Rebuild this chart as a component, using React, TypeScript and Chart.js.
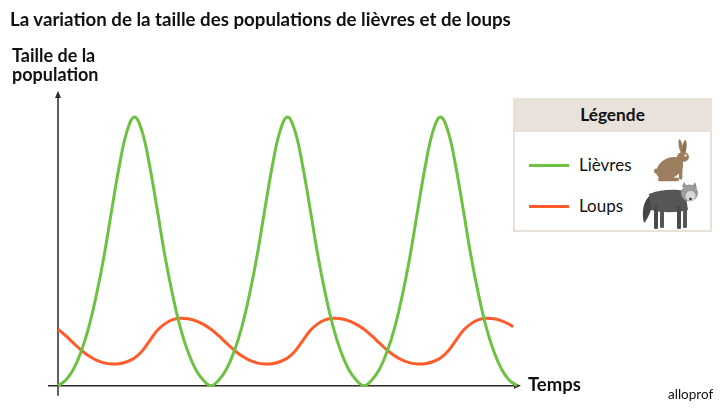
import React, { useEffect, useRef } from "react";
import { Chart, registerables } from "chart.js";

Chart.register(...registerables);

// ---------- Data ----------
const chartTitle = "La variation de la taille des populations de lièvres et de loups";
const yAxisTitle = ["Taille de la", "population"];
const xAxisTitle = "Temps";
const legendTitle = "Légende";
const seriesLabels = ["Lièvres", "Loups"];
const brandLabel = "alloprof";

const timeSteps: number[] = [
  0, 1, 2, 3, 4, 5, 6, 7, 8, 9, 10, 11, 12, 13, 14, 15, 16, 17, 18, 19,
  20, 21, 22, 23, 24, 25, 26, 27, 28, 29, 30, 31, 32, 33, 34, 35, 36, 37, 38, 39,
  40, 41, 42, 43, 44, 45, 46, 47, 48, 49, 50, 51, 52, 53, 54, 55, 56, 57, 58, 59,
  60,
];

const hareValues: number[] = [
  0, 2, 6, 12.5, 21.5, 33.5, 48, 65, 81.5, 94.5, 100, 94.5, 81.5, 65, 48, 33.5, 21.5, 12.5, 6, 2,
  0, 2, 6, 12.5, 21.5, 33.5, 48, 65, 81.5, 94.5, 100, 94.5, 81.5, 65, 48, 33.5, 21.5, 12.5, 6, 2,
  0, 2, 6, 12.5, 21.5, 33.5, 48, 65, 81.5, 94.5, 100, 94.5, 81.5, 65, 48, 33.5, 21.5, 12.5, 6, 2,
  0,
];

const wolfTimes: number[] = [
  0, 1, 2, 3, 4, 5, 6, 7, 8, 9, 10, 11, 12, 13, 14, 15, 16, 17, 18, 19,
  20, 21, 22, 23, 24, 25, 26, 27, 28, 29, 30, 31, 32, 33, 34, 35, 36, 37, 38, 39,
  40, 41, 42, 43, 44, 45, 46, 47, 48, 49, 50, 51, 52, 53, 54, 55, 56, 57, 58, 59,
  59.5,
];

const wolfValues: number[] = [
  21.0, 18.6, 15.9, 13.3, 11.1, 9.5, 8.5, 8.1, 8.2, 8.9, 10.3, 12.9, 16.8, 20.6, 23.1, 24.6, 25.1, 24.9, 24.1, 22.8,
  21.0, 18.6, 15.9, 13.3, 11.1, 9.5, 8.5, 8.1, 8.2, 8.9, 10.3, 12.9, 16.8, 20.6, 23.1, 24.6, 25.1, 24.9, 24.1, 22.8,
  21.0, 18.6, 15.9, 13.3, 11.1, 9.5, 8.5, 8.1, 8.2, 8.9, 10.3, 12.9, 16.8, 20.6, 23.1, 24.6, 25.1, 24.9, 24.1, 22.8,
  21.9,
];

const X_MIN = 0;
const X_MAX = 60;
const Y_MIN = 0;
const Y_MAX = 110;

// ---------- Style ----------
const GREEN = "#6EC243";
const ORANGE = "#FF5B2B";
const AXIS = "#2a2a2a";
const TEXT = "#111111";
const BEIGE = "#E8E2DA";
const FONT = "Lato, 'Open Sans', sans-serif";

const arrowAxes = {
  id: "arrowAxes",
  beforeDatasetsDraw(chart: any) {
    const { ctx, chartArea: a, scales } = chart;
    const x0 = scales.x.getPixelForValue(X_MIN);
    const y0 = scales.y.getPixelForValue(Y_MIN);
    ctx.save();
    ctx.strokeStyle = AXIS;
    ctx.fillStyle = AXIS;
    ctx.lineWidth = 1.5;
    // y axis
    ctx.beginPath();
    ctx.moveTo(x0, y0 + 10);
    ctx.lineTo(x0, a.top + 6);
    ctx.stroke();
    ctx.beginPath();
    ctx.moveTo(x0, a.top + 1);
    ctx.lineTo(x0 - 3, a.top + 8);
    ctx.lineTo(x0 + 3, a.top + 8);
    ctx.closePath();
    ctx.fill();
    // x axis
    const tip = a.right + 4;
    ctx.beginPath();
    ctx.moveTo(x0 - 10, y0);
    ctx.lineTo(tip - 5, y0);
    ctx.stroke();
    ctx.beginPath();
    ctx.moveTo(tip, y0);
    ctx.lineTo(tip - 7, y0 - 3);
    ctx.lineTo(tip - 7, y0 + 3);
    ctx.closePath();
    ctx.fill();
    ctx.restore();
  },
};

function Label(props: {
  x: number;
  y: number;
  size: number;
  weight?: number;
  width?: number;
  align?: "left" | "center";
  children: React.ReactNode;
}) {
  const lh = props.size * 1.2;
  return (
    <div
      style={{
        position: "absolute",
        left: props.x,
        top: props.y - lh / 2,
        width: props.width,
        textAlign: props.align || "left",
        fontFamily: FONT,
        fontSize: props.size,
        fontWeight: props.weight || 400,
        lineHeight: `${lh}px`,
        color: TEXT,
        whiteSpace: "nowrap",
      }}
    >
      {props.children}
    </div>
  );
}

function Hare(props: { x: number; y: number }) {
  const c = "#9C7E5E";
  return (
    <svg
      width={36}
      height={43}
      viewBox="0 0 36 43"
      style={{ position: "absolute", left: props.x, top: props.y }}
    >
      <ellipse cx={27} cy={8} rx={2} ry={8} transform="rotate(-12 27 8)" fill={c} />
      <ellipse cx={30.5} cy={8.5} rx={2} ry={7.5} transform="rotate(6 30.5 8.5)" fill="#8E7052" />
      <ellipse cx={29} cy={18} rx={6} ry={5} fill={c} />
      <ellipse cx={16} cy={29} rx={14} ry={10} transform="rotate(-28 16 29)" fill={c} />
      <ellipse cx={12} cy={33} rx={10} ry={8} fill={c} />
      <rect x={25} y={22} width={3.4} height={18.5} rx={1.6} fill={c} />
      <rect x={4} y={38.5} width={21} height={3.8} rx={1.8} fill={c} />
      <circle cx={2.6} cy={32} r={2.6} fill={c} />
      <circle cx={31.5} cy={16.5} r={1.3} fill="#EDE2C8" />
    </svg>
  );
}

function Wolf(props: { x: number; y: number }) {
  const body = "#565656";
  return (
    <svg
      width={58}
      height={48}
      viewBox="0 0 58 48"
      style={{ position: "absolute", left: props.x, top: props.y }}
    >
      <path d="M10 13 C3 17, 0 29, 3 41 C8 36, 10 27, 13 19 Z" fill="#454545" />
      <path d="M8 12 C20 7, 34 7, 44 9 L47 28 C36 31, 20 31, 10 28 Z" fill={body} />
      <rect x={13} y={24} width={4} height={23} rx={1.5} fill="#4a4a4a" />
      <rect x={19} y={24} width={4} height={22} rx={1.5} fill={body} />
      <rect x={36} y={24} width={4} height={23} rx={1.5} fill="#4a4a4a" />
      <rect x={42} y={24} width={4} height={22} rx={1.5} fill={body} />
      <path d="M41 5 L43 0 L46 5 Z" fill="#8d8d8d" />
      <path d="M51 5 L54 0 L56 6 Z" fill="#8d8d8d" />
      <ellipse cx={48.5} cy={11} rx={8.5} ry={8.5} fill="#9C9C9C" />
      <ellipse cx={49.5} cy={14} rx={5} ry={5} fill="#D6D6D6" />
      <circle cx={49.5} cy={17} r={1.3} fill="#333" />
    </svg>
  );
}

export default function App() {
  const canvasRef = useRef<HTMLCanvasElement | null>(null);

  useEffect(() => {
    const canvas = canvasRef.current;
    if (!canvas) return;
    const hareData = timeSteps.map((t, i) => ({ x: t, y: hareValues[i] }));
    const wolfData = wolfTimes.map((t, i) => ({ x: t, y: wolfValues[i] }));
    const chart = new Chart(canvas, {
      type: "line",
      data: {
        datasets: [
          {
            label: seriesLabels[0],
            data: hareData,
            borderColor: GREEN,
            borderWidth: 3,
            pointRadius: 0,
            tension: 0.4,
            fill: false,
            clip: false,
          },
          {
            label: seriesLabels[1],
            data: wolfData,
            borderColor: ORANGE,
            borderWidth: 3,
            pointRadius: 0,
            tension: 0.4,
            fill: false,
            clip: false,
          },
        ],
      },
      options: {
        animation: false,
        responsive: false,
        devicePixelRatio: window.devicePixelRatio || 1,
        layout: { padding: { left: 58, right: 203, top: 90, bottom: 23.3 } },
        plugins: {
          legend: { display: false },
          title: { display: false },
          tooltip: { enabled: false },
        },
        scales: {
          x: { type: "linear", min: X_MIN, max: X_MAX, display: false },
          y: { type: "linear", min: Y_MIN, max: Y_MAX, display: false },
        },
      },
      plugins: [arrowAxes],
    });
    return () => chart.destroy();
  }, []);

  return (
    <div
      style={{
        position: "absolute",
        left: 0,
        top: 0,
        width: 720,
        height: 409,
        background: "#ffffff",
        overflow: "hidden",
      }}
    >
      <canvas
        ref={canvasRef}
        width={720}
        height={409}
        style={{ position: "absolute", left: 0, top: 0, width: 720, height: 409 }}
      />
      <Label x={10} y={19} size={18.7} weight={700}>
        {chartTitle}
      </Label>
      <div
        style={{
          position: "absolute",
          left: 12,
          top: 46,
          fontFamily: FONT,
          fontSize: 18,
          fontWeight: 700,
          lineHeight: "19px",
          color: TEXT,
          whiteSpace: "nowrap",
        }}
      >
        <div>{yAxisTitle[0]}</div>
        <div>{yAxisTitle[1]}</div>
      </div>
      <Label x={528} y={384} size={18.5} weight={700}>
        {xAxisTitle}
      </Label>
      <Label x={668} y={394} size={13.5} weight={400}>
        {brandLabel}
      </Label>

      {/* Legend box */}
      <div
        style={{
          position: "absolute",
          left: 513,
          top: 98,
          width: 199,
          height: 134,
          background: BEIGE,
        }}
      />
      <div
        style={{
          position: "absolute",
          left: 515,
          top: 132,
          width: 195,
          height: 98,
          background: "#ffffff",
        }}
      />
      <Label x={513} y={115} size={17.3} weight={700} width={199} align="center">
        {legendTitle}
      </Label>
      <div style={{ position: "absolute", left: 529, top: 164, width: 40, height: 3, background: GREEN }} />
      <div style={{ position: "absolute", left: 529, top: 205, width: 40, height: 3, background: ORANGE }} />
      <Label x={579} y={165} size={17}>
        {seriesLabels[0]}
      </Label>
      <Label x={579} y={206} size={17}>
        {seriesLabels[1]}
      </Label>
      <Hare x={654} y={139} />
      <Wolf x={641} y={182} />
    </div>
  );
}
